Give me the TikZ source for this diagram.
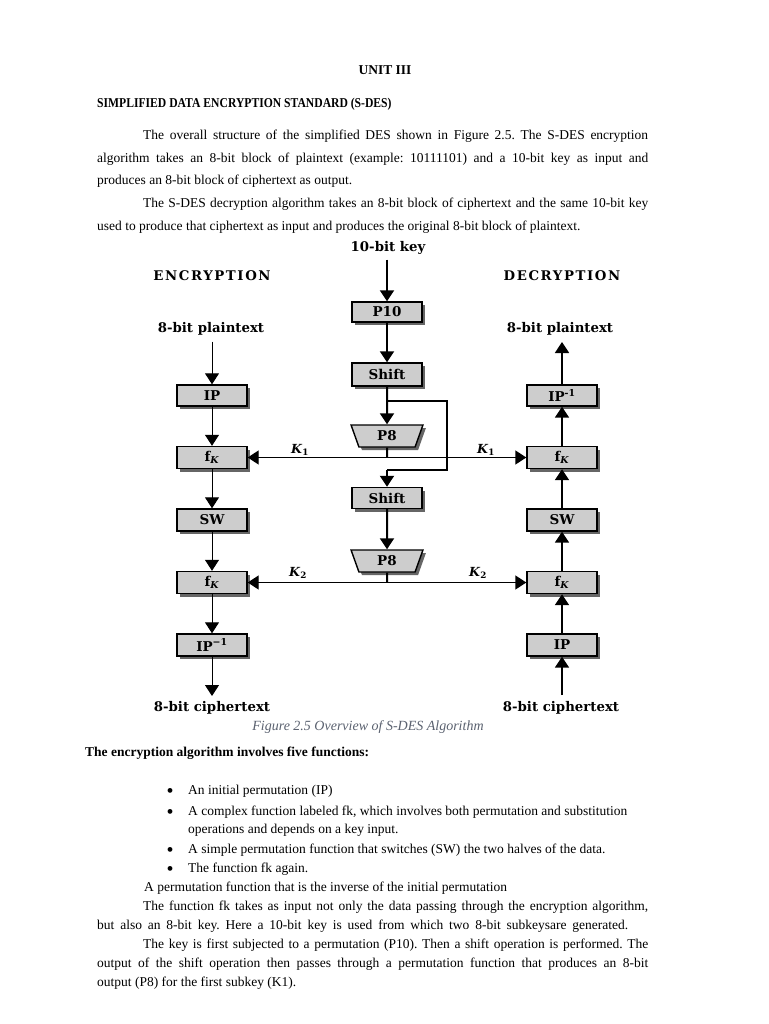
\documentclass[tikz,border=0pt]{standalone}
\usepackage{fontspec}
\setmainfont{Liberation Serif}
\newfontfamily\dfont{DejaVu Serif}
\usetikzlibrary{arrows.meta,shapes.geometric,shadows}
\definecolor{boxgray}{HTML}{CDCDCD}
\definecolor{capcol}{HTML}{5B6270}
\newcommand\jl[2]{\makebox[#1][s]{#2}}
\frenchspacing
\begin{document}
\begin{tikzpicture}[x=1pt,y=-1pt,
  txt/.style={anchor=base west, inner sep=0pt, font=\fontsize{13.5}{16}\selectfont},
  btxt/.style={txt, font=\fontsize{13.5}{16}\selectfont\bfseries},
  bul/.style={anchor=center, inner sep=0pt, font=\fontsize{20}{20}\selectfont},
  lbl/.style={inner sep=0pt, font=\dfont\bfseries\fontsize{13.3}{15}\selectfont},
  klbl/.style={inner sep=0pt, font=\dfont\bfseries\fontsize{12.5}{14}\selectfont},
  shd/.style={drop shadow={shadow xshift=3pt, shadow yshift=-3pt, fill=black!60, opacity=1}},
  blk/.style={draw=black, line width=1.4pt, fill=boxgray, minimum width=70pt, minimum height=21pt, inner sep=0pt, font=\dfont\bfseries\fontsize{13.5}{14}\selectfont, shd},
  trap/.style={trapezium, trapezium stretches=true, shape border rotate=180, trapezium left angle=75, trapezium right angle=75, minimum width=72pt, minimum height=22pt, draw=black, line width=1.4pt, fill=boxgray, inner sep=0pt, font=\dfont\bfseries\fontsize{13.5}{14}\selectfont, shd},
  tip/.style={-{Triangle[width=14pt,length=11pt]}},
  carr/.style={tip, line width=2pt},
  cline/.style={line width=2pt},
  larr/.style={tip, line width=1pt},
  rarr/.style={tip, line width=1.8pt},
  karr/.style={tip, line width=1.4pt},
  bline/.style={line width=1.3pt}
]
\useasboundingbox[fill=white] (0,0) rectangle (768,1024);

% ---- header text ----
\node[btxt, anchor=base] (unit) at (385,74.5) {UNIT III};
\node[btxt] (title) at (97,107.5) {\scalebox{0.862}[1]{SIMPLIFIED DATA ENCRYPTION STANDARD (S-DES)}};
\node[txt] (p1) at (143,139.5) {\jl{505pt}{The overall structure of the simplified DES shown in Figure 2.5. The S-DES encryption}};
\node[txt] (p2) at (97,162.5) {\jl{551pt}{algorithm takes an 8-bit block of plaintext (example: 10111101) and a 10-bit key as input and}};
\node[txt] (p3) at (97,184.5) {produces an 8-bit block of ciphertext as output.};
\node[txt] (p4) at (143,207.5) {\jl{505pt}{The S-DES decryption algorithm takes an 8-bit block of ciphertext and the same 10-bit key}};
\node[txt] (p5) at (97,230.5) {used to produce that ciphertext as input and produces the original 8-bit block of plaintext.};

% ---- diagram: key schedule ----
\node[lbl] (key) at (388,248) {10-bit key};
\node[lbl] (enc) at (212,276) {\addfontfeature{LetterSpace=12}ENCRYPTION};
\node[lbl] (dec) at (562,276) {\addfontfeature{LetterSpace=12}DECRYPTION};
\node[blk, minimum height=20pt] (p10) at (387,312) {P10};
\node[blk, minimum height=23pt] (sh1) at (387,374.5) {Shift};
\node[trap] (p8a) at (387,436) {P8};
\node[blk, minimum height=21pt] (sh2) at (387,498) {Shift};
\node[trap] (p8b) at (387,561) {P8};

% left column
\node[lbl] (ptL) at (211,329) {8-bit plaintext};
\node[blk, minimum height=21pt] (ipL) at (212,395.5) {IP};
\node[blk, minimum height=22pt] (fk1L) at (212,457.5) {f\textsubscript{\textit{K}}};
\node[blk, minimum height=22pt] (swL) at (212,520) {SW};
\node[blk, minimum height=22pt] (fk2L) at (212,582.5) {f\textsubscript{\textit{K}}};
\node[blk, minimum height=22pt] (ipiL) at (212,645) {IP\textsuperscript{−1}};
\coordinate (ctL) at (212,696);
\node[lbl] (ctLt) at (212,708) {8-bit ciphertext};

% right column
\node[lbl] (ptR) at (560,329) {8-bit plaintext};
\coordinate (ptRc) at (562,342);
\node[blk, minimum height=21pt] (ipiR) at (562,395.5) {IP\textsuperscript{-1}};
\node[blk, minimum height=22pt] (fk1R) at (562,457.5) {f\textsubscript{\textit{K}}};
\node[blk, minimum height=22pt] (swR) at (562,520) {SW};
\node[blk, minimum height=22pt] (fk2R) at (562,582.5) {f\textsubscript{\textit{K}}};
\node[blk, minimum height=22pt] (ipR) at (562,645) {IP};
\coordinate (ctRc) at (562,695);
\node[lbl] (ctRt) at (561,708) {8-bit ciphertext};

% key labels
\node[klbl] (k1l) at (300,450) {\textit{K}\textsubscript{1}};
\node[klbl] (k1r) at (486,450) {\textit{K}\textsubscript{1}};
\node[klbl] (k2l) at (298,573) {\textit{K}\textsubscript{2}};
\node[klbl] (k2r) at (478,573) {\textit{K}\textsubscript{2}};

% center connectors
\draw[carr, shorten <=5pt] (key.south -| p10.north) -- (p10.north);
\draw[carr] (p10.south) -- (sh1.north);
\draw[carr] (sh1.south) -- (p8a.north);
\coordinate (b0) at (387,401);
\coordinate (b1) at (447,401);
\coordinate (b2) at (447,470);
\coordinate (b3) at (387,470);
\draw[bline] (b0) -- (b1) -- (b2) -- (b3);
\draw[carr] (b3) -- (sh2.north);
\draw[carr] (sh2.south) -- (p8b.north);
\coordinate (j1) at (387,457.5);
\coordinate (j2) at (387,582.5);
\draw[cline] (p8a.south) -- (j1);
\draw[cline] (p8b.south) -- (j2);
\draw[karr] (j1) -- (fk1L.east |- j1);
\draw[karr] (j1) -- (fk1R.west |- j1);
\draw[karr] (j2) -- (fk2L.east |- j2);
\draw[karr] (j2) -- (fk2R.west |- j2);

% left connectors
\draw[larr, shorten <=6pt] (ptL.south -| ipL.north) -- (ipL.north);
\draw[larr] (ipL.south) -- (fk1L.north);
\draw[larr] (fk1L.south) -- (swL.north);
\draw[larr] (swL.south) -- (fk2L.north);
\draw[larr] (fk2L.south) -- (ipiL.north);
\draw[larr] (ipiL.south) -- (ctL);

% right connectors
\draw[rarr] (ipiR.north) -- (ptRc);
\draw[rarr] (fk1R.north) -- (ipiR.south);
\draw[rarr] (swR.north) -- (fk1R.south);
\draw[rarr] (fk2R.north) -- (swR.south);
\draw[rarr] (ipR.north) -- (fk2R.south);
\draw[rarr] (ctRc) -- (ipR.south);

% caption
\node[inner sep=0pt, font=\fontsize{14}{16}\selectfont\itshape, text=capcol] (cap) at (368,727) {Figure 2.5 Overview of S-DES Algorithm};

% ---- lower text ----
\node[btxt] (h2) at (85,756.5) {The encryption algorithm involves five functions:};
\node[bul] (bu1) at (170,793) {•};
\node[txt] (l1) at (188,794.5) {An initial permutation (IP)};
\node[bul] (bu2) at (170,814) {•};
\node[txt] (l2) at (188,815.5) {A complex function labeled fk, which involves both permutation and substitution};
\node[txt] (l3) at (188,833.5) {operations and depends on a key input.};
\node[bul] (bu3) at (170,852) {•};
\node[txt] (l4) at (188,853.5) {A simple permutation function that switches (SW) the two halves of the data.};
\node[bul] (bu4) at (170,871) {•};
\node[txt] (l5) at (188,872.5) {The function fk again.};
\node[txt] (l6) at (144,891.5) {A permutation function that is the inverse of the initial permutation};
\node[txt] (l7) at (143,910.5) {\jl{505pt}{The function fk takes as input not only the data passing through the encryption algorithm,}};
\node[txt] (l8) at (97,929.5) {\jl{531pt}{but also an 8-bit key. Here a 10-bit key is used from which two 8-bit subkeysare generated.}};
\node[txt] (l9) at (143,948.5) {\jl{505pt}{The key is first subjected to a permutation (P10). Then a shift operation is performed. The}};
\node[txt] (l10) at (97,967.5) {\jl{551pt}{output of the shift operation then passes through a permutation function that produces an 8-bit}};
\node[txt] (l11) at (97,986.5) {output (P8) for the first subkey (K1).};
\end{tikzpicture}
\end{document}
